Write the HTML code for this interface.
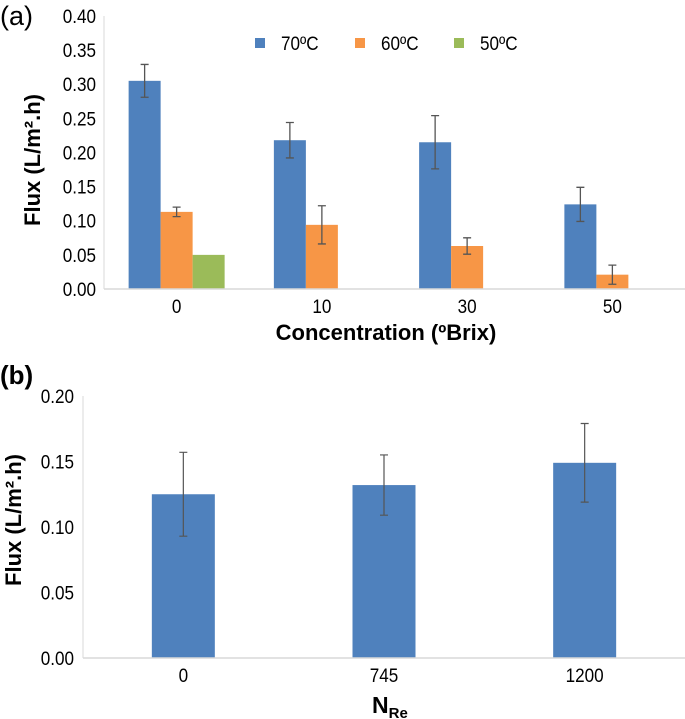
<!DOCTYPE html>
<html><head><meta charset="utf-8"><style>
html,body{margin:0;padding:0;background:#fff;}
svg{display:block;font-family:"Liberation Sans",Arial,sans-serif;}
</style></head><body>
<svg id="chart" width="685" height="719" viewBox="0 0 685 719" xmlns="http://www.w3.org/2000/svg">
<text x="0" y="25" font-size="27">(a)</text>
<text x="0" y="384" font-size="26" font-weight="bold">(b)</text>
<g id="pa"></g>
<g id="pb"></g>
</svg>
<script>
// Panel (a) data
const catsA = ["0","10","30","50"];
const seriesNames = ["70ºC","60ºC","50ºC"];
const v70 = [0.305,0.218,0.215,0.124];
const e70 = [0.024,0.026,0.039,0.025];
const v60 = [0.113,0.094,0.063,0.021];
const e60 = [0.007,0.028,0.012,0.014];
const v50 = [0.05,null,null,null];
const e50 = [0,0,0,0];
const ticksA = ["0.00","0.05","0.10","0.15","0.20","0.25","0.30","0.35","0.40"];
// Panel (b) data
const catsB = ["0","745","1200"];
const vB = [0.125,0.132,0.149];
const eB = [0.032,0.023,0.030];
const ticksB = ["0.00","0.05","0.10","0.15","0.20"];

const NS="http://www.w3.org/2000/svg";
function mk(parent,tag,attrs,text){const e=document.createElementNS(NS,tag);for(const k in attrs)e.setAttribute(k,attrs[k]);if(text!==undefined)e.textContent=text;parent.appendChild(e);return e;}
const colors=["#4f81bd","#f79646","#9bbb59"];
const narrow='scale(0.9,1)';

function label(g,x,y,size,anchor,txt,bold){
 const t=mk(g,'text',{x:x/0.9,y:y,'font-size':size,'text-anchor':anchor,transform:narrow},txt);
 if(bold)t.setAttribute('font-weight','bold');
 return t;
}

// Panel A
(function(){
 const g=document.getElementById('pa');
 const x0=104,x1=685,y0=289,y1=16,ymax=0.40;
 const ys=v=>y0-(v/ymax)*(y0-y1);
 const step=(x1-x0)/catsA.length;
 const cx=i=>x0+step*(i+0.5);
 ticksA.forEach(t=>{
  const tx=label(g,96,ys(parseFloat(t))+7,19,'end',t);
  
  
 });
 const ax=mk(g,'line',{x1:x0,y1:y1,x2:x0,y2:y0,stroke:'#d9d9d9','stroke-width':1});
 
 
 const bw=32;
 const series=[[v70,e70],[v60,e60],[v50,e50]];
 series.forEach((s,si)=>{
  s[0].forEach((v,i)=>{
   if(v===null)return;
   const x=cx(i)-1.5*bw+si*bw;
   const r=mk(g,'rect',{x:x,y:ys(v),width:bw,height:y0-ys(v),fill:colors[si]});
   
   
   const e=s[1][i];
   if(e>0){
    const mx=x+bw/2;
    const eg=mk(g,'path',{d:`M${mx} ${ys(v+e)}V${ys(v-e)}M${mx-4} ${ys(v+e)}H${mx+4}M${mx-4} ${ys(v-e)}H${mx+4}`,stroke:'#555','stroke-width':1.3,fill:'none'});
    
    
   }
  });
 });
 const xa=mk(g,'line',{x1:x0,y1:y0,x2:x1,y2:y0,stroke:'#d9d9d9','stroke-width':1.5});
 
 
 catsA.forEach((c,i)=>{
  const t=label(g,cx(i),313,19,'middle',c);
  
  
 });
 const lx=[255,355,454];
 seriesNames.forEach((n,i)=>{
  const sq=mk(g,'rect',{x:lx[i],y:38,width:10,height:10,fill:colors[i]});
  
  
  const t=label(g,lx[i]+26,50,19,'start',n);
  
  
 });
 const yt=mk(g,'text',{x:0,y:0,'font-size':22,'font-weight':'bold','text-anchor':'middle',transform:'translate(40,160) rotate(-90)'},'Flux (L/m².h)');
 
 
 const xt=mk(g,'text',{x:386,y:340,'font-size':22,'font-weight':'bold','text-anchor':'middle'},'Concentration (ºBrix)');
 
 
})();

// Panel B
(function(){
 const g=document.getElementById('pb');
 const x0=83,x1=685,y0=658,y1=396,ymax=0.20;
 const ys=v=>y0-(v/ymax)*(y0-y1);
 const step=(x1-x0)/catsB.length;
 const cx=i=>x0+step*(i+0.5);
 ticksB.forEach(t=>{
  const tx=label(g,74,ys(parseFloat(t))+7,19,'end',t);
  
  
 });
 const ax=mk(g,'line',{x1:x0,y1:y1,x2:x0,y2:y0,stroke:'#d9d9d9','stroke-width':1});
 
 
 const bw=63;
 vB.forEach((v,i)=>{
  const x=cx(i)-bw/2;
  const r=mk(g,'rect',{x:x,y:ys(v),width:bw,height:y0-ys(v),fill:colors[0]});
  
  
  const e=eB[i],mx=cx(i);
  const eg=mk(g,'path',{d:`M${mx} ${ys(v+e)}V${ys(v-e)}M${mx-4} ${ys(v+e)}H${mx+4}M${mx-4} ${ys(v-e)}H${mx+4}`,stroke:'#555','stroke-width':1.2,fill:'none'});
  
  
 });
 const xa=mk(g,'line',{x1:x0,y1:y0,x2:x1,y2:y0,stroke:'#d9d9d9','stroke-width':1.5});
 
 
 catsB.forEach((c,i)=>{
  const t=label(g,cx(i),682,19,'middle',c);
  
  
 });
 const yt=mk(g,'text',{x:0,y:0,'font-size':22,'font-weight':'bold','text-anchor':'middle',transform:'translate(21,520) rotate(-90)'},'Flux (L/m².h)');
 
 
 const xt=mk(g,'text',{x:372,y:713,'font-size':23,'font-weight':'bold'},'N');
 
 
 mk(xt,'tspan',{'font-size':15,dy:5},'Re');
})();
</script>
</body></html>
